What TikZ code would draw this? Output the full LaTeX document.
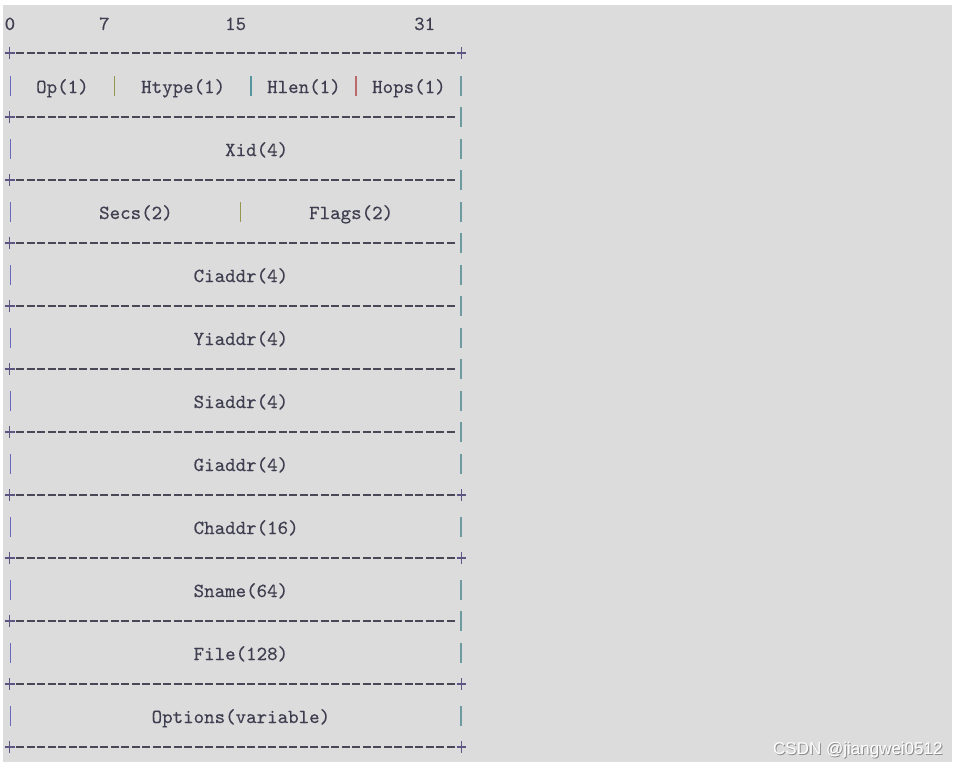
\documentclass[tikz,border=0pt]{standalone}
\usepackage{fontspec}
\newfontfamily\wmfont{Liberation Sans}
\newfontfamily\fieldfont{lmmono10-regular.otf}[FakeBold=0.3]
\definecolor{pagebg}{RGB}{220,220,220}
\definecolor{txtcol}{RGB}{62,62,80}
\definecolor{rulecol}{RGB}{72,72,86}
\definecolor{pluscol}{RGB}{95,85,130}
\definecolor{leftbar}{RGB}{105,105,190}
\definecolor{rightbar}{RGB}{110,155,162}
\definecolor{olivebar}{RGB}{150,150,80}
\definecolor{tealbar}{RGB}{85,150,160}
\definecolor{rosebar}{RGB}{185,105,105}
\newcommand{\colx}[1]{4.45+10.5*#1}

\begin{document}
\begin{tikzpicture}[x=1pt,y=-1pt]
\tikzstyle{field}=[anchor=base west, inner sep=0pt, text=txtcol, font=\fontsize{20}{24}\fieldfont]
\tikzstyle{rule}=[draw=rulecol, line width=1.2pt, dash pattern=on 8pt off 2.5pt]
\tikzstyle{cross}=[draw=pluscol, line width=1.2pt]
\tikzstyle{sep}=[line width=1.5pt]
% 1. Page
%%%%%%%%%
\fill[white] (0,0) rectangle (958,768);
\fill[pagebg] (3,5) rectangle (952,762);
\useasboundingbox (0,0) rectangle (958,768);

% 2. Bit numbers
%%%%%%%%%%%%%%%%
\node[field] (bit0)  at (\colx{0},30)  {0};
\node[field] (bit7)  at (\colx{9},30)  {7};
\node[field] (bit15) at (\colx{21},30) {15};
\node[field] (bit31) at (\colx{39},30) {31};

% 3. Border lines
%%%%%%%%%%%%%%%%%
\foreach \y/\e in {53/p,117/b,180/b,243/b,306/b,369/b,432/b,495/p,558/p,621/b,684/p,747/p} {
  \draw[rule] (16.2,\y) -- (455,\y);
  \draw[cross] (5,\y) -- (14.5,\y) (9.7,\y-6) -- (9.7,\y+6);
  \if\e p
    \draw[cross] (456.5,\y) -- (466,\y) (461.2,\y-6) -- (461.2,\y+6);
  \else
    \draw[sep, rightbar] (461.2,\y-10) -- (461.2,\y+10);
  \fi
}
\foreach \y in {86,149,212,275,338,401,464,527,590,653,716} {
  \draw[sep, leftbar] (10.5,\y-10) -- (10.5,\y+10);
  \draw[sep, rightbar] (461.2,\y-10) -- (461.2,\y+10);
}

% 4. Fields
%%%%%%%%%%%
\node[field] (op)    at (\colx{3},93)  {Op(1)};
\node[field] (htype) at (\colx{13},93) {Htype(1)};
\node[field] (hlen)  at (\colx{25},93) {Hlen(1)};
\node[field] (hops)  at (\colx{35},93) {Hops(1)};
\draw[sep, olivebar] (\colx{10}+5.25,76) -- (\colx{10}+5.25,96);
\draw[sep, tealbar]  (\colx{23}+5.25,76) -- (\colx{23}+5.25,96);
\draw[sep, rosebar]  (\colx{33}+5.25,76) -- (\colx{33}+5.25,96);

\node[field] (xid)   at (\colx{21},156) {Xid(4)};

\node[field] (secs)  at (\colx{9},219)  {Secs(2)};
\node[field] (flags) at (\colx{29},219) {Flags(2)};
\draw[sep, olivebar] (\colx{22}+5.25,202) -- (\colx{22}+5.25,222);

\node[field] (ciaddr)  at (\colx{18},282) {Ciaddr(4)};
\node[field] (yiaddr)  at (\colx{18},345) {Yiaddr(4)};
\node[field] (siaddr)  at (\colx{18},408) {Siaddr(4)};
\node[field] (giaddr)  at (\colx{18},471) {Giaddr(4)};
\node[field] (chaddr)  at (\colx{18},534) {Chaddr(16)};
\node[field] (sname)   at (\colx{18},597) {Sname(64)};
\node[field] (file)    at (\colx{18},660) {File(128)};
\node[field] (options) at (\colx{14},723) {Options(variable)};

% 5. Watermark
%%%%%%%%%%%%%%
\node[anchor=base west, inner sep=0pt, text=black!45, font=\fontsize{17}{20}\wmfont] (wmshade) at (774,755) {CSDN @jiangwei0512};
\node[anchor=base west, inner sep=0pt, text=white, font=\fontsize{17}{20}\wmfont] (wm) at (773,754) {CSDN @jiangwei0512};
\end{tikzpicture}
\end{document}
